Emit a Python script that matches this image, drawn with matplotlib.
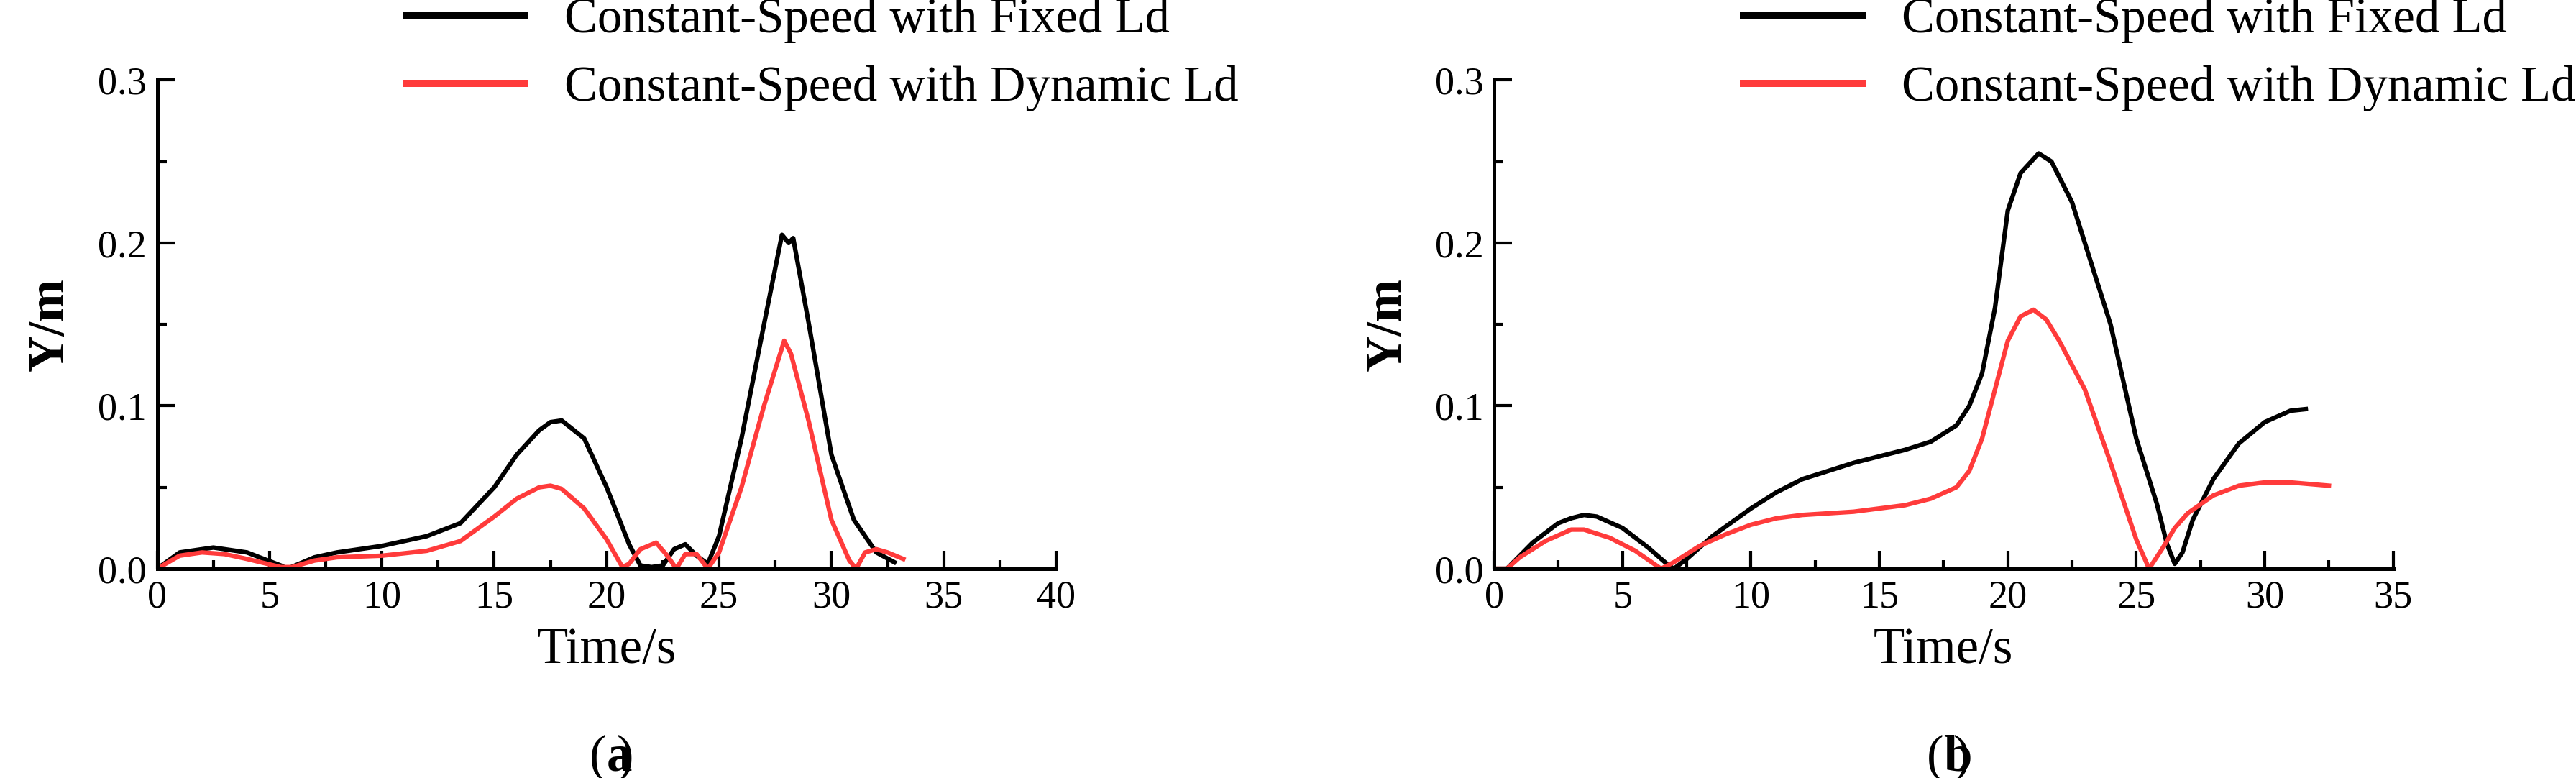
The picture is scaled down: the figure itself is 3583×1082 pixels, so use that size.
import matplotlib
matplotlib.use("Agg")
import matplotlib.pyplot as plt
from matplotlib.ticker import MultipleLocator

plt.rcParams.update({
    "font.family": ["Liberation Serif", "DejaVu Serif"],
    "axes.linewidth": 1.2,
})

C_FIXED = "#000000"
C_DYN = "#ff3b3b"

# panel (a)
a_fixed_t = [0, 1, 2.5, 4, 5.5, 5.8, 7, 8, 10, 12, 13.5, 15, 16, 17, 17.5, 18, 19, 20, 21,
             21.5, 22, 22.5, 23, 23.5, 24, 24.5, 25, 26, 27, 27.8, 28.1, 28.3, 29, 30, 31, 32, 32.8]
a_fixed_y = [0, 0.010, 0.013, 0.010, 0.002, 0.0, 0.007, 0.010, 0.014, 0.020, 0.028, 0.050, 0.070,
             0.085, 0.090, 0.091, 0.080, 0.050, 0.015, 0.002, 0.001, 0.002, 0.012, 0.015, 0.008,
             0.003, 0.020, 0.080, 0.150, 0.205, 0.200, 0.203, 0.150, 0.070, 0.030, 0.010, 0.004]
a_dyn_t = [0, 1, 2, 3, 4, 5.5, 6, 7, 8, 10, 12, 13.5, 15, 16, 17, 17.5, 18, 19, 20, 20.7, 21,
           21.5, 22.2, 22.7, 23.1, 23.5, 24, 24.5, 25, 26, 27, 27.9, 28.2, 29, 30, 30.8, 31.1,
           31.5, 32, 32.5, 33.2]
a_dyn_y = [0, 0.008, 0.010, 0.009, 0.006, 0.001, 0.001, 0.005, 0.007, 0.008, 0.011, 0.017, 0.032,
           0.043, 0.050, 0.051, 0.049, 0.037, 0.018, 0.001, 0.003, 0.012, 0.016, 0.008, 0.0,
           0.009, 0.009, 0.0, 0.010, 0.050, 0.100, 0.140, 0.132, 0.090, 0.030, 0.005, 0.0,
           0.010, 0.012, 0.010, 0.006]

# panel (b)
b_fixed_t = [0, 0.5, 1, 1.5, 2, 2.5, 3, 3.5, 4, 5, 6, 6.8, 7, 7.5, 8.5, 10, 11, 12, 13, 14, 15,
             16, 17, 18, 18.5, 19, 19.5, 20, 20.5, 21.2, 21.7, 22.5, 23, 24, 25, 25.8, 26.2, 26.5,
             26.8, 27.2, 28, 29, 30, 31, 31.6]
b_fixed_y = [0, 0, 0.008, 0.016, 0.022, 0.028, 0.031, 0.033, 0.032, 0.025, 0.013, 0.002, 0.0,
             0.006, 0.020, 0.037, 0.047, 0.055, 0.060, 0.065, 0.069, 0.073, 0.078, 0.088, 0.100,
             0.120, 0.160, 0.220, 0.243, 0.255, 0.250, 0.225, 0.200, 0.150, 0.080, 0.040, 0.015,
             0.003, 0.010, 0.030, 0.055, 0.077, 0.090, 0.097, 0.098]
b_dyn_t = [0, 0.5, 1, 2, 3, 3.5, 4.5, 5.5, 6.5, 7, 8, 9, 10, 11, 12, 14, 16, 17, 18, 18.5, 19,
           19.5, 20, 20.5, 21, 21.5, 22, 23, 24, 25, 25.5, 26, 26.5, 27, 28, 29, 30, 31, 32.5]
b_dyn_y = [0, 0, 0.007, 0.017, 0.024, 0.024, 0.019, 0.011, 0.0, 0.004, 0.014, 0.021, 0.027,
           0.031, 0.033, 0.035, 0.039, 0.043, 0.050, 0.060, 0.080, 0.110, 0.140, 0.155, 0.159,
           0.153, 0.140, 0.110, 0.065, 0.018, 0.0, 0.012, 0.025, 0.034, 0.045, 0.051, 0.053,
           0.053, 0.051]

LABELS = ["Constant-Speed with Fixed Ld", "Constant-Speed with Dynamic Ld"]

fig = plt.figure(figsize=(3583 / 300, 1082 / 300), dpi=300)
ax_a = fig.add_axes([0.061, 0.269, 0.349, 0.628])
ax_b = fig.add_axes([0.580, 0.269, 0.349, 0.628])


def panel(ax, t1, y1, t2, y2, xmax, tag, leg_x):
    ax.plot(t1, y1, color=C_FIXED, lw=1.5, label=LABELS[0])
    ax.plot(t2, y2, color=C_DYN, lw=1.5, label=LABELS[1])
    ax.set_xlim(0, xmax)
    ax.set_ylim(0, 0.3)
    ax.xaxis.set_major_locator(MultipleLocator(5))
    ax.xaxis.set_minor_locator(MultipleLocator(2.5))
    ax.yaxis.set_major_locator(MultipleLocator(0.1))
    ax.yaxis.set_minor_locator(MultipleLocator(0.05))
    ax.yaxis.set_major_formatter(plt.FormatStrFormatter("%.1f"))
    ax.tick_params(which="both", direction="in", labelsize=13, width=1.0)
    ax.tick_params(which="major", length=6)
    ax.tick_params(which="minor", length=3)
    ax.spines["top"].set_visible(False)
    ax.spines["right"].set_visible(False)
    ax.set_xlabel("Time/s", fontsize=17, labelpad=4)
    ax.set_ylabel("Y/m", fontsize=17, fontweight="bold", labelpad=8)
    ax.text(0.5, -0.34, "(", transform=ax.transAxes, ha="right", va="top", fontsize=17)
    ax.text(0.5, -0.34, tag, transform=ax.transAxes, ha="left", va="top", fontsize=17,
            fontweight="bold")
    ax.text(0.5 + 0.011, -0.34, ")", transform=ax.transAxes, ha="left", va="top", fontsize=17)
    leg = ax.legend(loc="upper left", bbox_to_anchor=(leg_x, 1.21), frameon=False,
                    fontsize=16.5, handlelength=2.4, handletextpad=0.8, labelspacing=0.45,
                    borderaxespad=0)
    for h in leg.get_lines():
        h.set_linewidth(2.4)


panel(ax_a, a_fixed_t, a_fixed_y, a_dyn_t, a_dyn_y, 40, "a", 0.255)
panel(ax_b, b_fixed_t, b_fixed_y, b_dyn_t, b_dyn_y, 35, "b", 0.255)

fig.savefig("out.png", dpi=300)
